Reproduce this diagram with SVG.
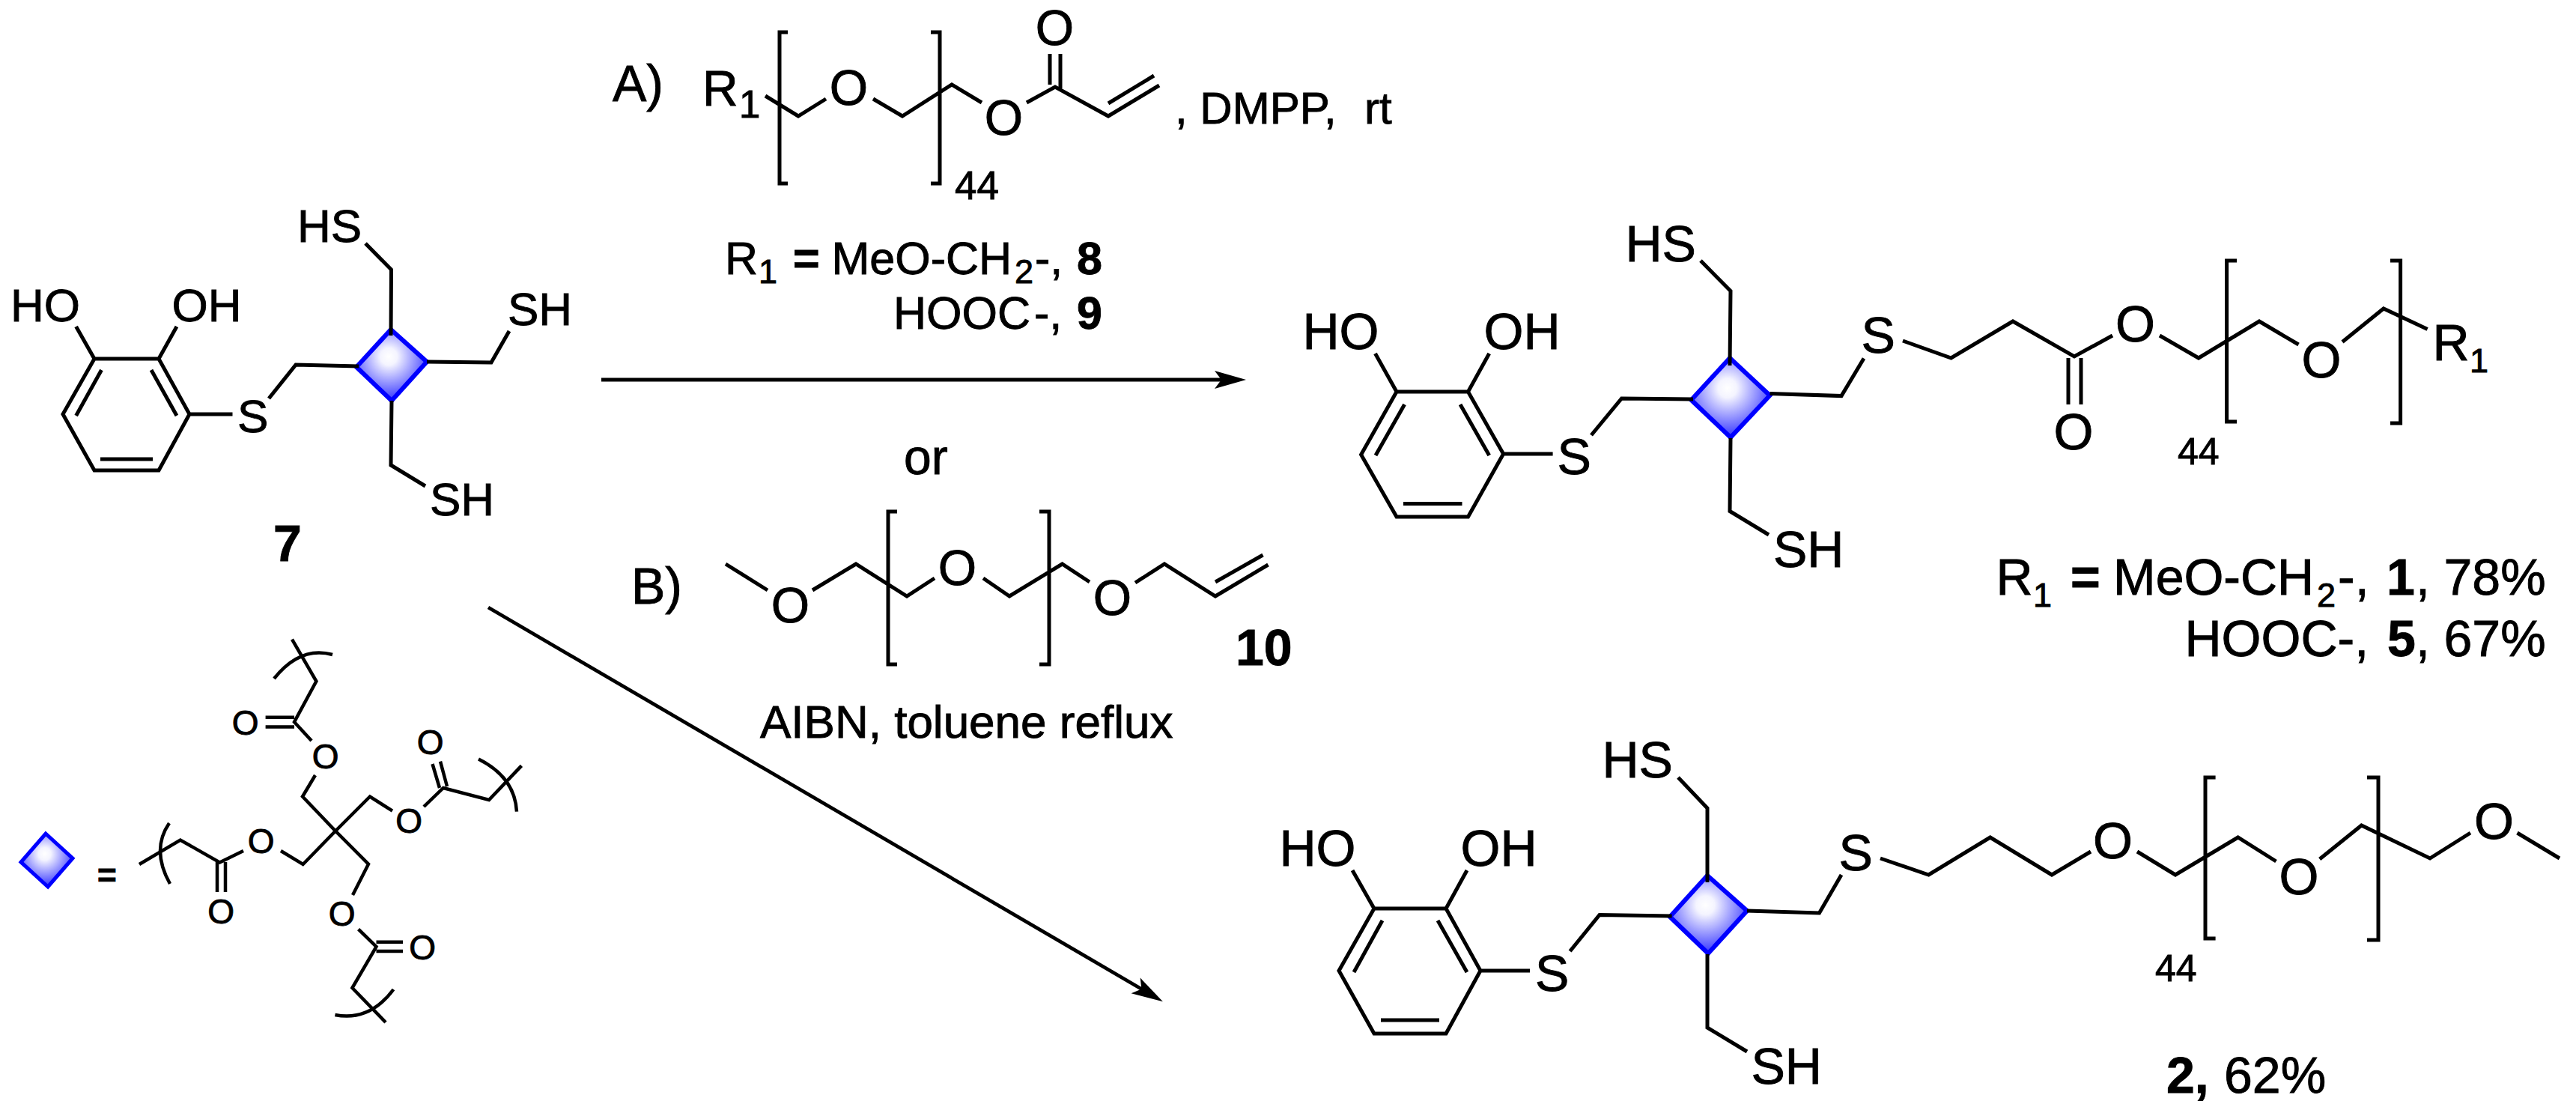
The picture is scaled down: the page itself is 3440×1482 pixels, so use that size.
<svg xmlns="http://www.w3.org/2000/svg" width="3440" height="1482" viewBox="0 0 3440 1482">
<style>
text{font-family:"Liberation Sans",Arial,sans-serif;fill:#000;stroke:#000;stroke-width:0.9}
.bond{fill:none;stroke:#000;stroke-width:5;stroke-linejoin:miter}
.thin{stroke-width:4.5}
.core{stroke:#0000ff;stroke-width:6;stroke-linejoin:miter;fill:url(#blue)}
.arrow{stroke:#000;stroke-width:4.8;fill:none;marker-end:url(#head)}
.s62{font-size:62px}.s68{font-size:68px}.s66{font-size:66px}.s61{font-size:61px}.s60{font-size:60px}.s46{font-size:46px}
.s50{font-size:50px}.s53{font-size:53px}
.b{font-weight:bold}
.sub{font-size:45px}
</style>
<defs>
<radialGradient id="blue" cx="0.46" cy="0.38" r="0.6">
<stop offset="0" stop-color="#ffffff"/><stop offset="0.2" stop-color="#f4f4ff"/><stop offset="1" stop-color="#3c3cff"/>
</radialGradient>
<marker id="head" markerUnits="userSpaceOnUse" markerWidth="44" markerHeight="26" refX="12" refY="12" orient="auto" overflow="visible">
<path d="M42,12 L0,0 L9,12 L0,24 Z" fill="#000"/>
</marker>
</defs>
<rect width="3440" height="1482" fill="#fff"/>

<g id="connectors">
<line class="arrow" x1="803" y1="507" x2="1634" y2="507"/>
<line class="arrow" x1="652" y1="811" x2="1527" y2="1322"/>
</g>

<g id="compound-7">
<polygon class="core" points="522,440 570,483 523,535 476,490"/>
<path class="bond" d="M126,479 L212,479 L253,553 L212,628 L126,628 L84,553 Z M135.5,494 L101.6,555 M202,494 L236,555 M134,613 L204,613 M101.6,436 L126,479 M236,436 L212,479 M253,553 L310.5,553 M359,532 L395,487 L479,489 M522,448 L522.5,360 L488,325 M570,483 L656,484 L680,442 M523,535 L522,621 L568,649"/>
<text class="s62" x="14" y="429">HO</text>
<text class="s62" x="229.5" y="429">OH</text>
<text class="s62" x="317" y="577">S</text>
<text class="s62" x="397" y="323">HS</text>
<text class="s62" x="678" y="434">SH</text>
<text class="s62" x="574" y="688">SH</text>
<text class="s68 b" x="365" y="749">7</text>
</g>

<g id="reagent-A">
<text class="s68" x="818" y="135">A)</text>
<text class="s66" x="938" y="141">R<tspan style="font-size:51px" x="987" y="157">1</tspan></text>
<path class="bond" d="M1022,128 L1066,155 L1103,132 M1166,132 L1205,155 L1271,113 L1311,137 M1371,137 L1409,116 L1480,155 L1548,114 M1480,138 L1541,101 M1402,72 L1402,113 M1416,72 L1416,118 M1052,43 L1041,43 L1041,245 L1052,245 M1243,43 L1255,43 L1255,245 L1243,245"/>
<text class="s66" x="1107.7" y="140">O</text>
<text class="s66" x="1314.7" y="180">O</text>
<text class="s66" x="1382.7" y="60">O</text>
<text class="s53" x="1275" y="266">44</text>
<text class="s60" x="1569" y="165">, DMPP,<tspan x="1822">rt</tspan></text>
<text class="s61" x="968" y="366">R<tspan class="sub" x="1013" y="378">1</tspan><tspan class="b" x="1059" y="366">=</tspan><tspan x="1110.5">MeO-CH</tspan><tspan class="sub" x="1355" y="378">2</tspan><tspan x="1382" y="366">-,</tspan><tspan class="b" x="1438">8</tspan></text>
<text class="s61" x="1193" y="439">HOOC<tspan x="1381">-,</tspan><tspan class="b" x="1438">9</tspan></text>
</g>

<g id="label-or">
<text class="s66" x="1207" y="633">or</text>
</g>

<g id="reagent-B">
<text class="s68" x="843" y="806">B)</text>
<path class="bond" d="M969,753 L1025,788 M1085,788 L1143,753 L1211,796 L1248,772 M1313,772 L1348,796 L1418.5,753 L1455,777 M1516,778 L1555,753 L1623,796 L1693.5,754 M1623,777 L1686.5,741 M1198,683 L1186,683 L1186,887 L1198,887 M1388,683 L1401,683 L1401,887 L1388,887"/>
<text class="s66" x="1029.7" y="831">O</text>
<text class="s66" x="1252.7" y="781">O</text>
<text class="s66" x="1459.7" y="821">O</text>
<text class="s68 b" x="1650" y="888">10</text>
<text class="s62" x="1015" y="985">AIBN, toluene reflux</text>
</g>

<g id="product-1">
<polygon class="core" points="2310,478 2363.5,528 2311,584 2258.5,534"/>
<path class="bond" d="M1865,523 L1960.5,523 L2007.6,606 L1960.5,690 L1865,690 L1817.6,607 Z M1875.6,540 L1837,608 M1950,540 L1988.7,608 M1874,672.5 L1952.5,672.5 M1836.5,472 L1865,523 M1988.7,472 L1960.5,523 M2007.6,606 L2073.6,606 M2125,581 L2165.5,532 L2261,533 M2310,488 L2311,388.5 L2271,348 M2363.5,525.5 L2459,528.6 L2489,478.5 M2311,585 L2310,682.5 L2362,714 M2541,455 L2605.5,478 L2688,429 L2770,476 L2821,448 M2762,478 L2762,540 M2779,478 L2779,540 M2884,448 L2936,478 L3017,429 L3069.5,460 M3128,456.5 L3183,412 L3241.6,439.5 M2987,348 L2973.6,348 L2973.6,563 L2987,563 M3192,348 L3205.6,348 L3205.6,565 L3192,565"/>
<text class="s68" x="1739.5" y="466">HO</text>
<text class="s68" x="1981.5" y="466">OH</text>
<text class="s68" x="2079.5" y="633">S</text>
<text class="s68" x="2170.5" y="349">HS</text>
<text class="s68" x="2485.5" y="471">S</text>
<text class="s68" x="2368" y="757">SH</text>
<text class="s68" x="2742.5" y="600">O</text>
<text class="s68" x="2825" y="456">O</text>
<text class="s68" x="3073.5" y="504">O</text>
<text class="s68" x="3248.5" y="481">R<tspan class="sub" x="3298" y="497">1</tspan></text>
<text class="s50" x="2908" y="620">44</text>
<text class="s68" x="2665.5" y="794">R<tspan class="sub" x="2715" y="810">1</tspan><tspan class="b" x="2765" y="794">=</tspan><tspan x="2822">MeO-CH</tspan><tspan class="sub" x="3094" y="810">2</tspan><tspan x="3122" y="794">-,</tspan><tspan class="b" x="3187">1</tspan><tspan x="3226">,</tspan><tspan x="3263.5">78%</tspan></text>
<text class="s68" x="2917.5" y="876">HOOC-,<tspan class="b" x="3188">5</tspan><tspan x="3226">,</tspan><tspan x="3263.5">67%</tspan></text>
</g>

<g id="product-2">
<polygon class="core" points="2280,1169 2333,1216 2281,1273 2230,1224"/>
<path class="bond" d="M1835,1213 L1931,1213 L1977,1296 L1931,1380 L1835,1380 L1788,1296 Z M1846,1229 L1808,1298 M1920,1229 L1959,1298 M1844,1362 L1922,1362 M1806,1162 L1835,1213 M1959,1162 L1931,1213 M1977,1296 L2043,1296 M2096.6,1270 L2136,1221.5 L2232.6,1223 M2280,1178 L2280,1079 L2241,1038 M2333,1216 L2429.5,1219 L2459,1168 M2280,1274 L2280,1372 L2333,1404 M2511,1146 L2575.5,1168 L2657.7,1118 L2740,1168 L2792,1137 M2854,1137 L2905,1168 L2988.6,1118 L3039.5,1150 M3097.7,1147 L3153.5,1102 L3245,1146 L3299,1112 M3361.5,1112 L3418,1146 M2958.6,1038 L2945,1038 L2945,1253 L2958.6,1253 M3161,1038 L3176,1038 L3176,1255 L3161,1255"/>
<text class="s68" x="1708.5" y="1156">HO</text>
<text class="s68" x="1950.5" y="1156">OH</text>
<text class="s68" x="2050" y="1323">S</text>
<text class="s68" x="2139.5" y="1038">HS</text>
<text class="s68" x="2338.5" y="1447">SH</text>
<text class="s68" x="2455.5" y="1162">S</text>
<text class="s68" x="2795" y="1146">O</text>
<text class="s68" x="3043.5" y="1194">O</text>
<text class="s68" x="3304" y="1120">O</text>
<text class="s50" x="2878" y="1310">44</text>
<text class="s68 b" x="2893" y="1459">2,<tspan style="font-weight:normal" x="2970">62%</tspan></text>
</g>

<g id="legend-core">
<polygon class="core" style="stroke-width:5" points="61,1113 97,1146 64,1184 28,1151"/>
<text class="s46 b" style="font-size:44px" x="130" y="1184">=</text>
<path class="bond thin" d="M448,1109.5 L404,1063.5 L421,1035 M448,1109.5 L494,1063.5 L524,1082.7 M448,1109.5 L404.6,1154 L375,1136 M448,1109.5 L492,1153.7 L471,1195 M416,989 L393,964 L422.4,909.5 L390,853.7 M354.6,957.7 L393,957.7 M354.6,970.6 L393,970.6 M366,906 Q401,862 444,874 M566,1077 L592,1052 L653,1068 L696.4,1022.4 M587,1052 L577.5,1020 M597,1050 L588,1016.6 M639,1013.5 Q687.5,1037.5 690,1083.6 M325,1136 L293.4,1151.4 L240.8,1121.5 L186,1154 M290,1151 L290,1191 M301,1151 L301,1191 M226,1099 Q201.5,1134.5 227,1180 M478.6,1240.7 L502.5,1264 L470.4,1319 L515,1365 M502.5,1257.7 L538,1257.7 M502.5,1270 L538,1270 M447.4,1355 Q493.5,1364 525.5,1321"/>
<text class="s46" x="416.7" y="1026">O</text>
<text class="s46" x="309.7" y="981">O</text>
<text class="s46" x="528.3" y="1112">O</text>
<text class="s46" x="556.7" y="1007">O</text>
<text class="s46" x="330.7" y="1139">O</text>
<text class="s46" x="277.3" y="1233">O</text>
<text class="s46" x="438.7" y="1236">O</text>
<text class="s46" x="546.2" y="1281">O</text>
</g>
</svg>
